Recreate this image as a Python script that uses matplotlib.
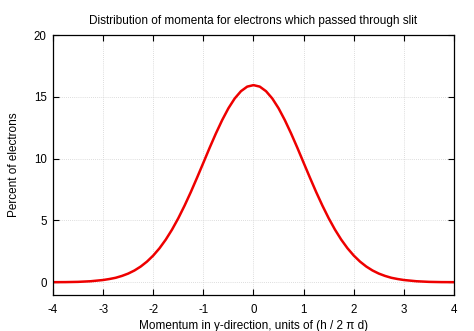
import matplotlib
matplotlib.use("Agg")
import matplotlib.pyplot as plt

plt.rcParams['font.family'] = ['Liberation Sans', 'DejaVu Sans']

# Momentum (units of h / 2 pi d) and percentage of electrons
momentum = [-4.0, -3.75, -3.5, -3.25, -3.0, -2.875, -2.75, -2.625, -2.5, -2.375,
            -2.25, -2.125, -2.0, -1.875, -1.75, -1.625, -1.5, -1.375, -1.25,
            -1.125, -1.0, -0.875, -0.75, -0.625, -0.5, -0.375, -0.25, -0.125,
            0.0, 0.125, 0.25, 0.375, 0.5, 0.625, 0.75, 0.875, 1.0, 1.125, 1.25,
            1.375, 1.5, 1.625, 1.75, 1.875, 2.0, 2.125, 2.25, 2.375, 2.5,
            2.625, 2.75, 2.875, 3.0, 3.25, 3.5, 3.75, 4.0]
percent = [0.005, 0.01, 0.03, 0.08, 0.18, 0.26, 0.36, 0.51, 0.70, 0.95,
           1.27, 1.67, 2.16, 2.75, 3.45, 4.26, 5.18, 6.20, 7.30,
           8.47, 9.67, 10.88, 12.04, 13.12, 14.08, 14.87, 15.46, 15.83,
           15.95, 15.83, 15.46, 14.87, 14.08, 13.12, 12.04, 10.88, 9.67, 8.47, 7.30,
           6.20, 5.18, 4.26, 3.45, 2.75, 2.16, 1.67, 1.27, 0.95, 0.70,
           0.51, 0.36, 0.26, 0.18, 0.08, 0.03, 0.01, 0.005]

x_ticks = [-4, -3, -2, -1, 0, 1, 2, 3, 4]
y_ticks = [0, 5, 10, 15, 20]

title = "Distribution of momenta for electrons which passed through slit"
x_label = "Momentum in y-direction, units of (h / 2 \u03c0 d)"
y_label = "Percent of electrons"

fig = plt.figure(figsize=(4.74, 3.31), dpi=100)
ax = fig.add_axes([0.1118, 0.110, 0.846, 0.784])

ax.plot(momentum, percent, color="#ee0000", linewidth=1.8, solid_capstyle="round")

ax.set_xlim(-4, 4)
ax.set_ylim(-1, 20)
ax.set_xticks(x_ticks)
ax.set_yticks(y_ticks)
ax.set_xticklabels([str(t) for t in x_ticks])
ax.set_yticklabels([str(t) for t in y_ticks])

ax.grid(True, color="#d2d2d2", linestyle=(0, (1, 1.5)), linewidth=0.6)
ax.set_axisbelow(True)

ax.tick_params(direction="in", length=4, width=0.8, labelsize=8.3,
               top=True, right=True, colors="black")
ax.tick_params(axis="x", pad=6.5)
ax.tick_params(axis="y", pad=4.5)
for s in ax.spines.values():
    s.set_linewidth(0.9)
    s.set_color("black")

ax.set_title(title, fontsize=8.5, pad=8)
ax.set_xlabel(x_label, fontsize=8.5, labelpad=3)
ax.set_ylabel(y_label, fontsize=8.5, labelpad=10)

fig.savefig("out.png", dpi=100)
